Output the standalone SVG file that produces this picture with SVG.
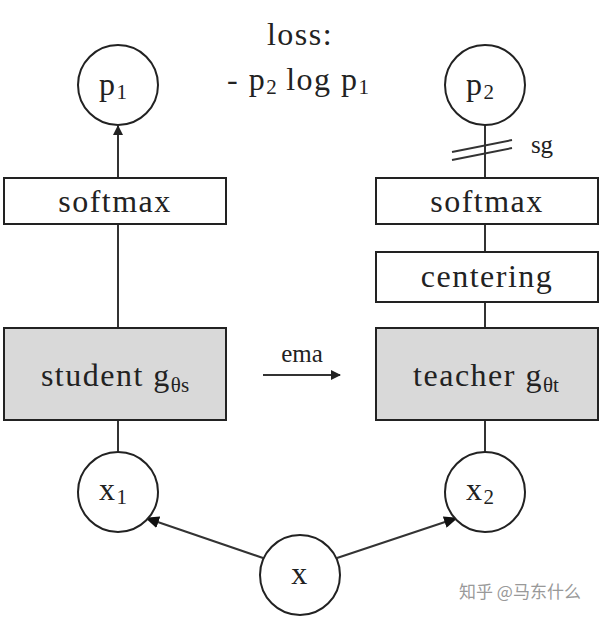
<svg xmlns="http://www.w3.org/2000/svg" width="600" height="617" viewBox="0 0 600 617">
<defs>
<marker id="ah" markerWidth="10" markerHeight="10" refX="9" refY="5" orient="auto" markerUnits="userSpaceOnUse"><path d="M0,0 L10,5 L0,10 z" fill="#222"/></marker>
<marker id="ahs" markerWidth="14" markerHeight="12" refX="13" refY="6" orient="auto" markerUnits="userSpaceOnUse"><path d="M0,0 L14,6 L0,12 z" fill="#111"/></marker>
</defs>
<style>
text{font-family:"Liberation Serif",serif;fill:#222;text-anchor:middle}
.t{font-size:32px;letter-spacing:1.5px}
.s{font-size:21px;letter-spacing:0}
circle,rect{stroke:#222;stroke-width:2;fill:#fff}
.g{fill:#d9d9d9}
line{stroke:#333;stroke-width:2}
</style>
<g id="connectors">
<line x1="118" y1="178" x2="118" y2="126" marker-end="url(#ah)"/>
<line x1="118" y1="224" x2="118" y2="328"/>
<line x1="118" y1="420" x2="118" y2="452"/>
<line x1="485" y1="125" x2="485" y2="178"/>
<line x1="452" y1="152" x2="512" y2="140"/>
<line x1="452" y1="160" x2="512" y2="148"/>
<line x1="485" y1="224" x2="485" y2="252"/>
<line x1="485" y1="302" x2="485" y2="328"/>
<line x1="485" y1="420" x2="485" y2="452"/>
<line x1="263" y1="375" x2="340" y2="375" stroke-width="1.5" marker-end="url(#ah)"/>
<line x1="263" y1="558" x2="146" y2="518" stroke="#111" stroke-width="2.5" marker-end="url(#ahs)"/>
<line x1="337" y1="558" x2="457" y2="518" stroke="#111" stroke-width="2.5" marker-end="url(#ahs)"/>
</g>
<g id="p1"><circle cx="118" cy="85" r="40"/><text class="t" x="113" y="95">p<tspan class="s" dy="4">1</tspan></text></g>
<g id="softmax1"><rect x="4" y="178" width="222" height="46"/><text class="t" x="115" y="212">softmax</text></g>
<g id="student"><rect class="g" x="4" y="328" width="222" height="92"/><text class="t" x="115" y="386">student g<tspan class="s" dy="6">θs</tspan></text></g>
<g id="x1"><circle cx="118" cy="492" r="40"/><text class="t" x="113" y="500">x<tspan class="s" dy="4">1</tspan></text></g>
<g id="p2"><circle cx="485" cy="85" r="40"/><text class="t" x="480" y="95">p<tspan class="s" dy="4">2</tspan></text></g>
<text x="542" y="153" style="font-size:25px">sg</text>
<g id="softmax2"><rect x="376" y="178" width="222" height="46"/><text class="t" x="487" y="212">softmax</text></g>
<g id="centering"><rect x="376" y="252" width="222" height="50"/><text class="t" x="487" y="287">centering</text></g>
<g id="teacher"><rect class="g" x="376" y="328" width="222" height="92"/><text class="t" x="486" y="386">teacher g<tspan class="s" dy="6">θt</tspan></text></g>
<g id="x2"><circle cx="485" cy="492" r="40"/><text class="t" x="480" y="500">x<tspan class="s" dy="4">2</tspan></text></g>
<g id="x"><circle cx="300" cy="575" r="40"/><text class="t" x="300" y="584">x</text></g>
<text x="302" y="362" style="font-size:25px">ema</text>
<text class="t" x="300" y="45">loss:</text>
<text class="t" x="298" y="90">- p<tspan class="s" dy="4">2</tspan><tspan dy="-4"> log p</tspan><tspan class="s" dy="4">1</tspan></text>
<text x="520" y="598" style="font-family:'Noto Sans CJK SC',sans-serif;font-size:17px;fill:#999">知乎 @马东什么</text>
</svg>
